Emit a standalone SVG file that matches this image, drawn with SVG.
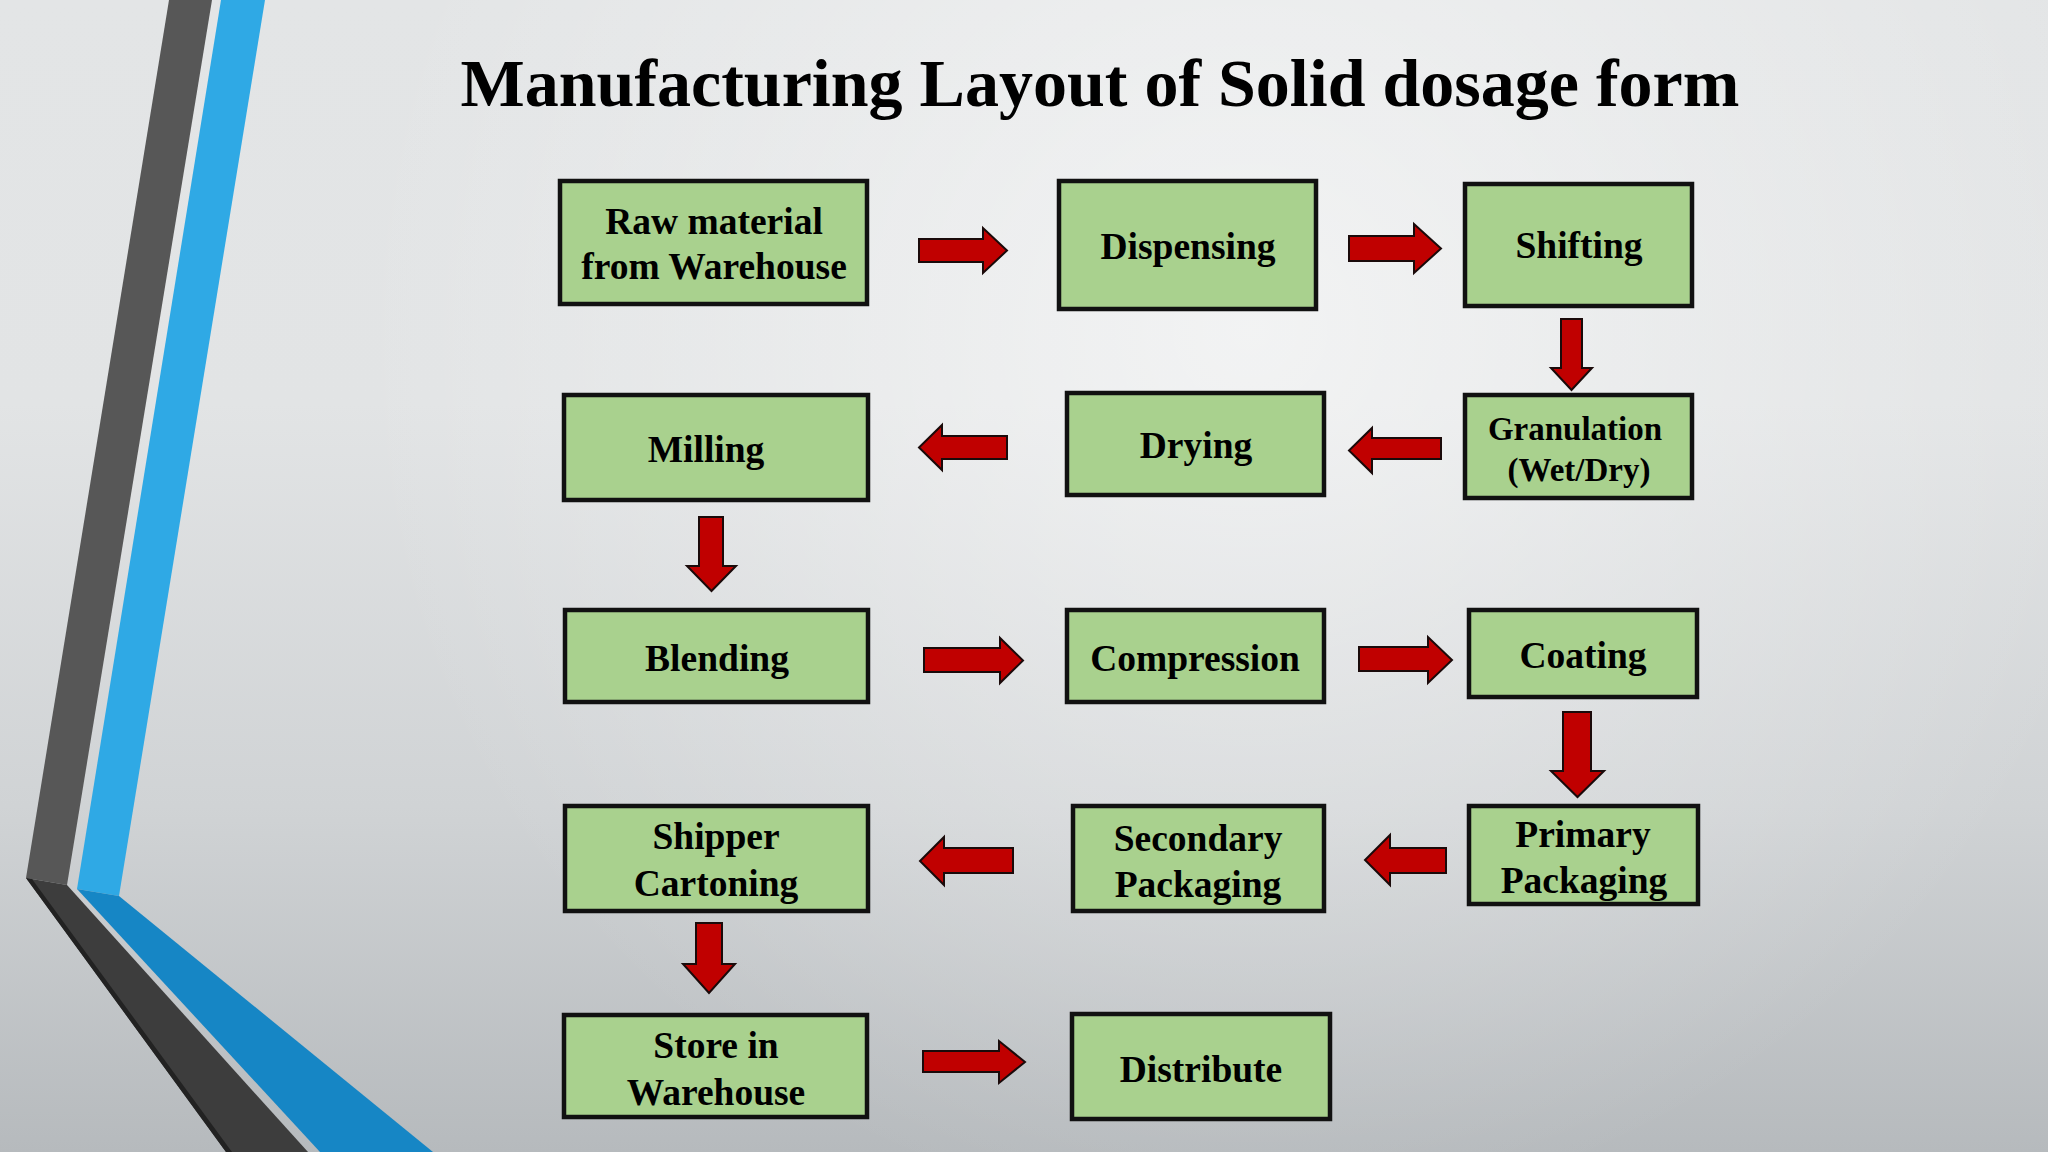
<svg xmlns="http://www.w3.org/2000/svg" width="2048" height="1152" viewBox="0 0 2048 1152">
  <defs>
    <linearGradient id="bg" x1="0" y1="0" x2="0" y2="1">
      <stop offset="0" stop-color="#e3e5e6"/>
      <stop offset="0.35" stop-color="#e2e4e5"/>
      <stop offset="0.7" stop-color="#d0d3d5"/>
      <stop offset="1" stop-color="#b6babd"/>
    </linearGradient>
    <radialGradient id="glow" cx="1250" cy="330" r="900" gradientUnits="userSpaceOnUse">
      <stop offset="0" stop-color="#ffffff" stop-opacity="0.55"/>
      <stop offset="0.6" stop-color="#ffffff" stop-opacity="0.2"/>
      <stop offset="1" stop-color="#ffffff" stop-opacity="0"/>
    </radialGradient>
    <style>
      .box rect { fill: #a9d18e; stroke: #111; stroke-width: 4.5; }
      .box text { font-family: "Liberation Serif", "Times New Roman", serif; font-weight: bold; font-size: 37.5px; fill: #000; text-anchor: middle; }
      .box text.sm { font-size: 33px; }
      .arr { fill: #c00000; stroke: #1a0a0a; stroke-width: 2; stroke-linejoin: miter; }
      .title { font-family: "Liberation Serif", "Times New Roman", serif; font-weight: bold; font-size: 68px; fill: #000; text-anchor: middle; }
    </style>
  </defs>

  <rect x="0" y="0" width="2048" height="1152" fill="url(#bg)"/>
  <rect x="0" y="0" width="2048" height="1152" fill="url(#glow)"/>

  <g id="decoration">
    <polygon points="169,0 212,0 67,885 26,878" fill="#575757"/>
    <polygon points="221,0 265,0 119,896 77,889" fill="#2fa9e5"/>
    <polygon points="26,878 67,885 308,1152 226,1152" fill="#3d3d3d"/>
    <polygon points="26,878 32,879 232,1152 226,1152" fill="#222"/>
    <polygon points="77,889 119,896 433,1152 320,1152" fill="#1686c5"/>
  </g>

  <text class="title" x="1100" y="106">Manufacturing Layout of Solid dosage form</text>

  <g id="connectors">
    <polygon class="arr" points="919,239 983,239 983,228 1007,250.5 983,273 983,262 919,262"/>
    <polygon class="arr" points="1349,236 1414,236 1414,224 1441,248.5 1414,273 1414,261 1349,261"/>
    <polygon class="arr" points="1561,319 1582,319 1582,368 1592,368 1571.5,390 1551,368 1561,368"/>
    <polygon class="arr" points="1441,438 1372,438 1372,428 1349,450.5 1372,473 1372,459 1441,459"/>
    <polygon class="arr" points="1007,436 942,436 942,425 919,447.5 942,470 942,459 1007,459"/>
    <polygon class="arr" points="699,517 723,517 723,566 736,566 711.5,591 687,566 699,566"/>
    <polygon class="arr" points="924,648 1000,648 1000,638 1023,660.5 1000,683 1000,672 924,672"/>
    <polygon class="arr" points="1359,647 1428,647 1428,637 1452,660 1428,683 1428,671 1359,671"/>
    <polygon class="arr" points="1563,712 1591,712 1591,771 1604,771 1577.5,797 1551,771 1563,771"/>
    <polygon class="arr" points="1446,848 1390,848 1390,835 1365,860 1390,885 1390,873 1446,873"/>
    <polygon class="arr" points="1013,848 944,848 944,837 920,861 944,885 944,873 1013,873"/>
    <polygon class="arr" points="696,923 722,923 722,964 735,964 709,993 683,964 696,964"/>
    <polygon class="arr" points="923,1051 999,1051 999,1041 1025,1062 999,1083 999,1072 923,1072"/>
  </g>

  <g id="n-raw" class="box">
    <rect x="560" y="181" width="307" height="123"/>
    <text x="714" y="234">Raw material</text>
    <text x="714" y="279">from Warehouse</text>
  </g>
  <g id="n-dispensing" class="box">
    <rect x="1059" y="181" width="257" height="128"/>
    <text x="1188" y="259">Dispensing</text>
  </g>
  <g id="n-shifting" class="box">
    <rect x="1465" y="184" width="227" height="122"/>
    <text x="1579" y="258">Shifting</text>
  </g>
  <g id="n-granulation" class="box">
    <rect x="1465" y="395" width="227" height="103"/>
    <text class="sm" x="1575" y="440">Granulation</text>
    <text class="sm" x="1579" y="481">(Wet/Dry)</text>
  </g>
  <g id="n-drying" class="box">
    <rect x="1067" y="393" width="257" height="102"/>
    <text x="1196" y="458">Drying</text>
  </g>
  <g id="n-milling" class="box">
    <rect x="564" y="395" width="304" height="105"/>
    <text x="706" y="462">Milling</text>
  </g>
  <g id="n-blending" class="box">
    <rect x="565" y="610" width="303" height="92"/>
    <text x="717" y="671">Blending</text>
  </g>
  <g id="n-compression" class="box">
    <rect x="1067" y="610" width="257" height="92"/>
    <text x="1195" y="671">Compression</text>
  </g>
  <g id="n-coating" class="box">
    <rect x="1469" y="610" width="228" height="87"/>
    <text x="1583" y="668">Coating</text>
  </g>
  <g id="n-primary" class="box">
    <rect x="1469" y="806" width="229" height="98"/>
    <text x="1583" y="847">Primary</text>
    <text x="1584" y="893">Packaging</text>
  </g>
  <g id="n-secondary" class="box">
    <rect x="1073" y="806" width="251" height="105"/>
    <text x="1198" y="851">Secondary</text>
    <text x="1198" y="897">Packaging</text>
  </g>
  <g id="n-shipper" class="box">
    <rect x="565" y="806" width="303" height="105"/>
    <text x="716" y="849">Shipper</text>
    <text x="716" y="896">Cartoning</text>
  </g>
  <g id="n-store" class="box">
    <rect x="564" y="1015" width="303" height="102"/>
    <text x="716" y="1058">Store in</text>
    <text x="716" y="1105">Warehouse</text>
  </g>
  <g id="n-distribute" class="box">
    <rect x="1072" y="1014" width="258" height="105"/>
    <text x="1201" y="1082">Distribute</text>
  </g>
</svg>
